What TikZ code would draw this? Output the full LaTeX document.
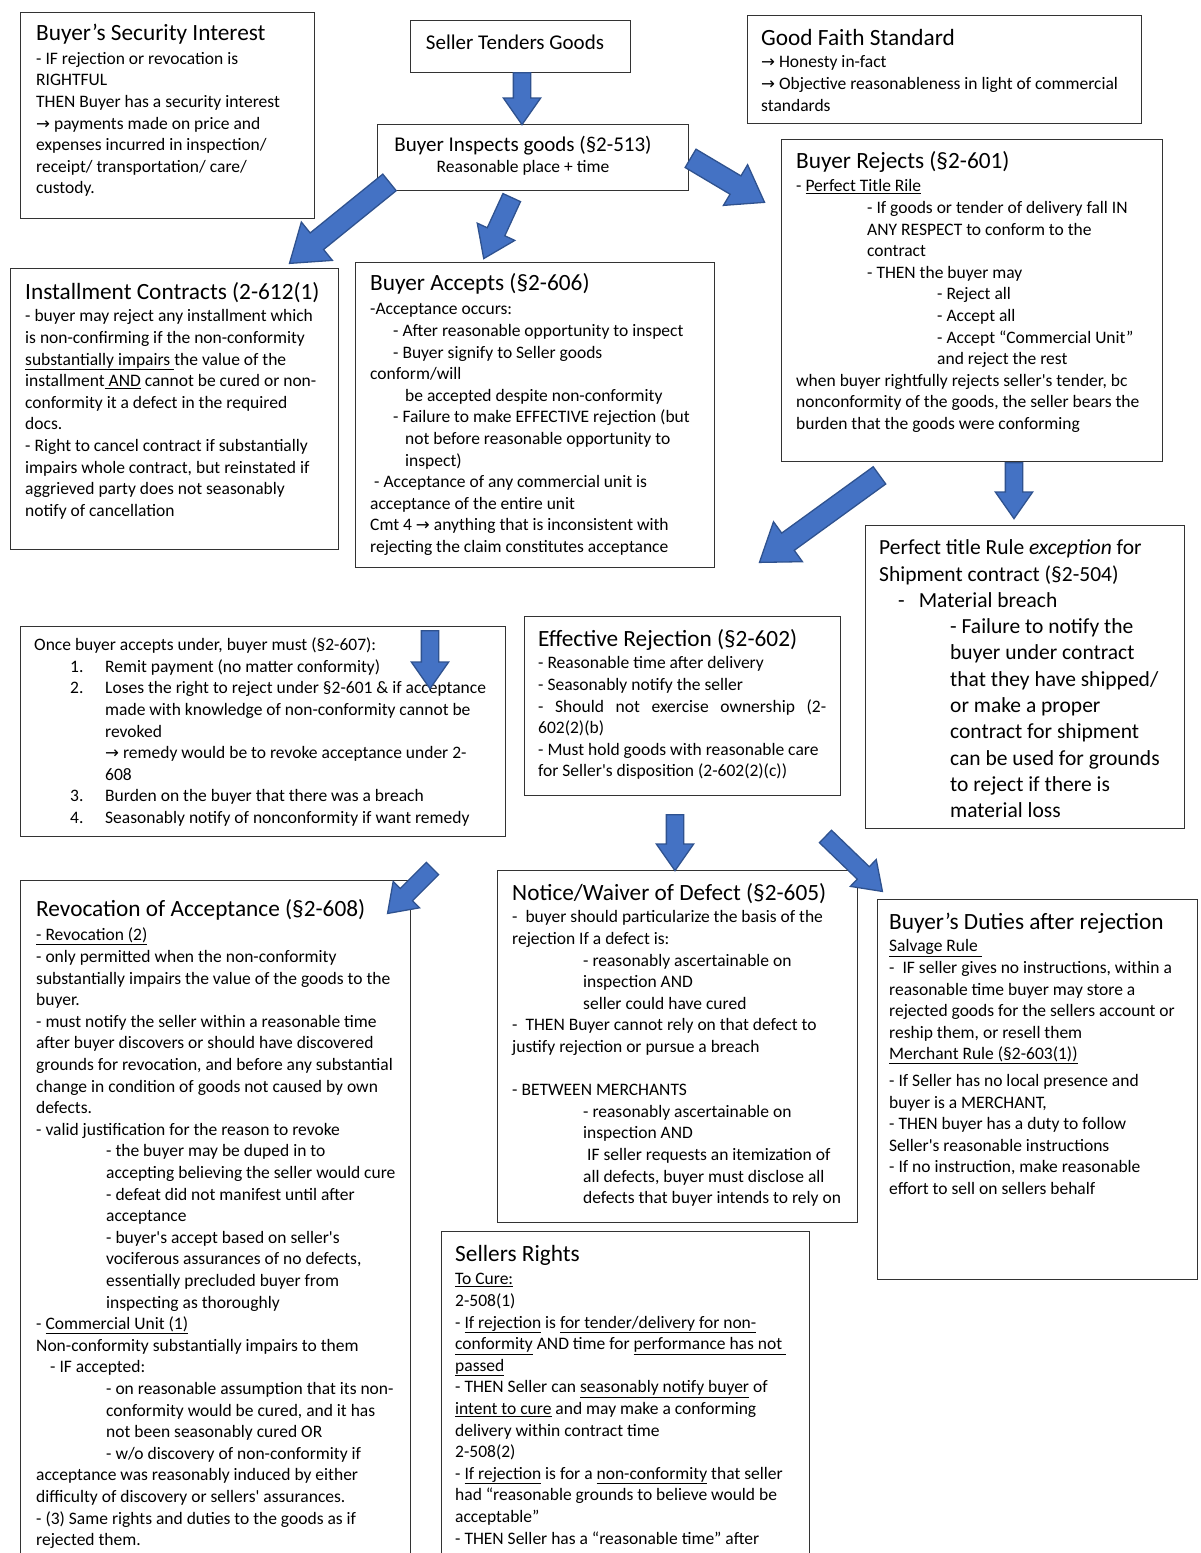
\documentclass[tikz,border=0pt]{standalone}
\usepackage{fontspec}
\setmainfont{Carlito}[Ligatures=TeXOff]
\newfontfamily\arrowfont[Scale=0.95]{DejaVu Sans}
\usetikzlibrary{shapes.arrows,calc}
\definecolor{ablue}{HTML}{4472C4}
\definecolor{aborder}{HTML}{2F528F}
\newcommand\ra{{\arrowfont →}}
\newcommand\ttl[1]{\rule{0pt}{18pt}{\fontsize{23.3}{27}\selectfont #1}}
\newcommand\bx[5]{\node[boxst, anchor=north west, minimum width={#4-#2}, minimum height={#5-#3}] (#1) at (#2,#3) {};}
\newcommand\barrow[4]{\path let \p1=(#1), \p2=(#2), \n1={atan2(\y2-\y1,\x2-\x1)}, \n2={veclen(\x2-\x1,\y2-\y1)} in node[barrowst, anchor=tail, rotate=\n1, minimum height=\n2, text height=#3, single arrow head extend=#4] at (\p1) {};}
\begin{document}
\begin{tikzpicture}[x=1pt,y=-1pt,
  boxst/.style={draw=black!80, line width=1pt, inner sep=0pt, fill=white},
  txt/.style={inner sep=0pt, anchor=north west, align=left, font={\fontsize{17.5}{21.6}\selectfont}},
  barrowst/.style={single arrow, draw=aborder, fill=ablue, line width=1.3pt, inner sep=0pt, text width=0pt, text depth=0pt, single arrow head indent=0pt, single arrow tip angle=70}]
\useasboundingbox (0,0) rectangle (1200,1553);
\clip (0,0) rectangle (1200,1553);
\fill[white] (0,0) rectangle (1200,1553);

% boxes
\bx{sec}{20}{12}{314}{218}
\bx{seller}{410}{20}{630}{72}
\bx{gf}{747}{15}{1141}{123}
\bx{insp}{377}{124}{688}{190}
\bx{rej}{781}{139}{1162}{461}
\bx{inst}{10}{268}{338}{549}
\bx{acc}{355}{262}{714}{567}
\bx{ptr}{865}{525}{1184}{828}
\bx{once}{20}{626}{505}{836}
\bx{eff}{524}{616}{840}{795}
\bx{rev}{20}{880}{410}{1570}
\bx{notice}{497}{870}{857}{1222}
\bx{duties}{877}{899}{1197}{1279}
\bx{sellers}{441}{1231}{809}{1570}

% texts
\node[txt] (secT) at (36,22.5) {\ttl{Buyer’s Security Interest}\\[2pt]
- IF rejection or revocation is\\
RIGHTFUL\\
THEN Buyer has a security interest\\
\ra{} payments made on price and\\
expenses incurred in inspection/\\
receipt/ transportation/ care/\\
custody.};

\node[inner sep=0pt, anchor=base, font={\fontsize{21}{24}\selectfont}] (sellerT) at (515,49.3) {Seller Tenders Goods};

\node[txt, font={\fontsize{17.5}{22}\selectfont}] (gfT) at (761,27.5) {\ttl{Good Faith Standard}\\[0pt]
\ra{} Honesty in-fact\\
\ra{} Objective reasonableness in light of commercial\\
standards};

\node[inner sep=0pt, anchor=north, align=center, font={\fontsize{17.5}{20.6}\selectfont}] (inspT) at (523,134.3) {\rule{0pt}{17pt}{\fontsize{21}{24}\selectfont Buyer Inspects goods (§2-513)}\\
Reasonable place + time};

\node[txt] (rejT) at (796,150.5) {\ttl{Buyer Rejects (§2-601)}\\[1.5pt]
- \underline{Perfect Title Rile}\\
\hspace*{71pt}- If goods or tender of delivery fall IN\\
\hspace*{71pt}ANY RESPECT to conform to the\\
\hspace*{71pt}contract\\
\hspace*{71pt}- THEN the buyer may\\
\hspace*{141pt}- Reject all\\
\hspace*{141pt}- Accept all\\
\hspace*{141pt}- Accept “Commercial Unit”\\
\hspace*{141pt}and reject the rest\\
when buyer rightfully rejects seller's tender, bc\\
nonconformity of the goods, the seller bears the\\
burden that the goods were conforming};

\node[txt] (instT) at (25,281.5) {\ttl{Installment Contracts (2-612(1)}\\[0.5pt]
- buyer may reject any installment which\\
is non-confirming if the non-conformity\\
\underline{substantially impairs }the value of the\\
installment\underline{ AND} cannot be cured or non-\\
conformity it a defect in the required\\
docs.\\
- Right to cancel contract if substantially\\
impairs whole contract, but reinstated if\\
aggrieved party does not seasonably\\
notify of cancellation};

\node[txt] (accT) at (370,272.5) {\ttl{Buyer Accepts (§2-606)}\\[2.5pt]
-Acceptance occurs:\\
\hspace*{23pt}- After reasonable opportunity to inspect\\
\hspace*{23pt}- Buyer signify to Seller goods\\
conform/will\\
\hspace*{35pt}be accepted despite non-conformity\\
\hspace*{23pt}- Failure to make EFFECTIVE rejection (but\\
\hspace*{35pt}not before reasonable opportunity to\\
\hspace*{35pt}inspect)\\
\hspace*{4pt}- Acceptance of any commercial unit is\\
acceptance of the entire unit\\
Cmt 4 \ra{} anything that is inconsistent with\\
rejecting the claim constitutes acceptance};

\node[txt, font={\fontsize{21.5}{26.3}\selectfont}] (ptrT) at (879,537.5) {\rule{0pt}{17pt}Perfect title Rule \emph{exception} for\\
Shipment contract (§2-504)\\
\hspace*{19pt}-\hspace*{14pt}Material breach\\
\hspace*{71pt}- Failure to notify the\\
\hspace*{71pt}buyer under contract\\
\hspace*{71pt}that they have shipped/\\
\hspace*{71pt}or make a proper\\
\hspace*{71pt}contract for shipment\\
\hspace*{71pt}can be used for grounds\\
\hspace*{71pt}to reject if there is\\
\hspace*{71pt}material loss};

\node[txt] (onceT) at (34,636.5) {\rule{0pt}{14pt}Once buyer accepts under, buyer must (§2-607):\\
\hspace*{36pt}\makebox[35pt][l]{1.}Remit payment (no matter conformity)\\
\hspace*{36pt}\makebox[35pt][l]{2.}Loses the right to reject under §2-601 \& if acceptance\\
\hspace*{71pt}made with knowledge of non-conformity cannot be\\
\hspace*{71pt}revoked\\
\hspace*{71pt}\ra{} remedy would be to revoke acceptance under 2-\\
\hspace*{71pt}608\\
\hspace*{36pt}\makebox[35pt][l]{3.}Burden on the buyer that there was a breach\\
\hspace*{36pt}\makebox[35pt][l]{4.}Seasonably notify of nonconformity if want remedy};

\node[txt] (effT) at (538,628.5) {\ttl{Effective Rejection (§2-602)}\\[0.5pt]
- Reasonable time after delivery\\
- Seasonably notify the seller\\
\makebox[288pt][s]{- Should not exercise ownership (2-}\\
602(2)(b)\\
- Must hold goods with reasonable care\\
for Seller's disposition (2-602(2)(c))};

\node[txt] (revT) at (36,898.5) {\ttl{Revocation of Acceptance (§2-608)}\\[2.5pt]
\underline{- Revocation (2)}\\
- only permitted when the non-conformity\\
substantially impairs the value of the goods to the\\
buyer.\\
- must notify the seller within a reasonable time\\
after buyer discovers or should have discovered\\
grounds for revocation, and before any substantial\\
change in condition of goods not caused by own\\
defects.\\
- valid justification for the reason to revoke\\
\hspace*{70pt}- the buyer may be duped in to\\
\hspace*{70pt}accepting believing the seller would cure\\
\hspace*{70pt}- defeat did not manifest until after\\
\hspace*{70pt}acceptance\\
\hspace*{70pt}- buyer's accept based on seller's\\
\hspace*{70pt}vociferous assurances of no defects,\\
\hspace*{70pt}essentially precluded buyer from\\
\hspace*{70pt}inspecting as thoroughly\\
- \underline{Commercial Unit (1)}\\
Non-conformity substantially impairs to them\\
\hspace*{14pt}- IF accepted:\\
\hspace*{70pt}- on reasonable assumption that its non-\\
\hspace*{70pt}conformity would be cured, and it has\\
\hspace*{70pt}not been seasonably cured OR\\
\hspace*{70pt}- w/o discovery of non-conformity if\\
acceptance was reasonably induced by either\\
difficulty of discovery or sellers' assurances.\\
- (3) Same rights and duties to the goods as if\\
rejected them.};

\node[txt] (noticeT) at (512,882.5) {\ttl{Notice/Waiver of Defect (§2-605)}\\[0.5pt]
-\hspace*{8pt}buyer should particularize the basis of the\\
rejection If a defect is:\\
\hspace*{71pt}- reasonably ascertainable on\\
\hspace*{71pt}inspection AND\\
\hspace*{71pt}seller could have cured\\
-\hspace*{8pt}THEN Buyer cannot rely on that defect to\\
justify rejection or pursue a breach\\[21.6pt]
- BETWEEN MERCHANTS\\
\hspace*{71pt}- reasonably ascertainable on\\
\hspace*{71pt}inspection AND\\
\hspace*{75pt}IF seller requests an itemization of\\
\hspace*{71pt}all defects, buyer must disclose all\\
\hspace*{71pt}defects that buyer intends to rely on};

\node[txt] (dutiesT) at (889,911.5) {\ttl{Buyer’s Duties after rejection}\\[0.5pt]
\underline{Salvage Rule }\\
-\hspace*{8pt}IF seller gives no instructions, within a\\
reasonable time buyer may store a\\
rejected goods for the sellers account or\\
reship them, or resell them\\
\underline{Merchant Rule (§2-603(1))}\\[5pt]
- If Seller has no local presence and\\
buyer is a MERCHANT,\\
- THEN buyer has a duty to follow\\
Seller's reasonable instructions\\
- If no instruction, make reasonable\\
effort to sell on sellers behalf};

\node[txt] (sellersT) at (455,1243.5) {\ttl{Sellers Rights}\\[1.5pt]
\underline{To Cure:}\\
2-508(1)\\
- \underline{If rejection} is \underline{for tender/delivery for non-}\\
\underline{conformity} AND time for \underline{performance has not }\\
\underline{passed}\\
- THEN Seller can \underline{seasonably notify buyer} of\\
\underline{intent to cure} and may make a conforming\\
delivery within contract time\\
2-508(2)\\
- \underline{If rejection} is for a \underline{non-conformity} that seller\\
had “reasonable grounds to believe would be\\
acceptable”\\
- THEN Seller has a “reasonable time” after};

% arrow end points
\coordinate (a1s) at (522,72);   \coordinate (a1e) at (522,124);
\coordinate (a2s) at (390,182);  \coordinate (a2e) at (290,263);
\coordinate (a3s) at (512,197);  \coordinate (a3e) at (484,258);
\coordinate (a4s) at (690,158);  \coordinate (a4e) at (764,202);
\coordinate (a5s) at (880,475);  \coordinate (a5e) at (760,562);
\coordinate (a6s) at (1014,462); \coordinate (a6e) at (1014,518);
\coordinate (a7s) at (430,630);  \coordinate (a7e) at (430,688);
\coordinate (a8s) at (433,868);  \coordinate (a8e) at (388,913);
\coordinate (a9s) at (675,814);  \coordinate (a9e) at (675,870);
\coordinate (a10s) at (825,836); \coordinate (a10e) at (882,891);

\barrow{a1s}{a1e}{16}{10}
\barrow{a2s}{a2e}{20}{14}
\barrow{a3s}{a3e}{18}{11}
\barrow{a4s}{a4e}{20}{13}
\barrow{a5s}{a5e}{20}{14}
\barrow{a6s}{a6e}{16}{10}
\barrow{a7s}{a7e}{16}{10}
\barrow{a8s}{a8e}{16}{10}
\barrow{a9s}{a9e}{16}{10}
\barrow{a10s}{a10e}{16}{10}
\end{tikzpicture}
\end{document}
